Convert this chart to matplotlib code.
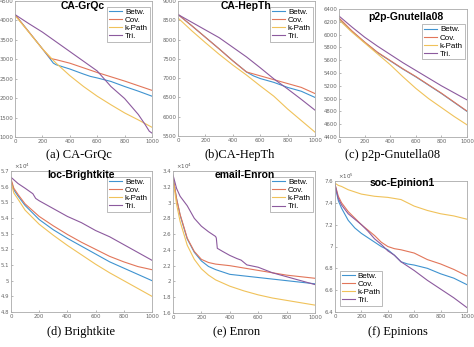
import matplotlib
matplotlib.use("Agg")
import matplotlib.pyplot as plt

W, H = 474, 347

names = ["Betw.", "Cov.", "k-Path", "Tri."]
colors = ["#3f93d0", "#e2765a", "#f0c25a", "#8c5a9e"]

# ---- (a) CA-GrQc ----
a_betw_x = [0, 100, 200, 250, 280, 300, 400, 500, 550, 600, 700, 800, 900, 1000]
a_betw_y = [4150, 3710, 3270, 3040, 2900, 2860, 2750, 2620, 2560, 2520, 2430, 2300, 2180, 2050]
a_cov_x = [0, 100, 200, 260, 300, 400, 500, 600, 700, 800, 900, 1000]
a_cov_y = [4150, 3710, 3270, 3020, 2990, 2900, 2780, 2660, 2550, 2440, 2320, 2200]
a_kp_x = [0, 100, 200, 300, 400, 500, 600, 700, 800, 900, 1000]
a_kp_y = [4130, 3700, 3270, 2900, 2580, 2300, 2050, 1830, 1620, 1440, 1250]
a_tri_x = [0, 100, 200, 300, 400, 500, 600, 650, 700, 800, 900, 950, 980, 1000]
a_tri_y = [4150, 3920, 3700, 3450, 3200, 2950, 2700, 2500, 2300, 1990, 1580, 1320, 1150, 1100]

# ---- (b) CA-HepTh ----
b_betw_x = [0, 100, 200, 300, 400, 500, 550, 600, 700, 800, 900, 1000]
b_betw_y = [8650, 8360, 8060, 7760, 7450, 7160, 7060, 6990, 6890, 6760, 6660, 6500]
b_cov_x = [0, 100, 200, 300, 400, 500, 600, 700, 800, 900, 1000]
b_cov_y = [8650, 8360, 8060, 7760, 7450, 7160, 7060, 6960, 6860, 6760, 6600]
b_kp_x = [0, 100, 200, 300, 400, 500, 600, 700, 800, 900, 1000]
b_kp_y = [8560, 8230, 7920, 7620, 7340, 7080, 6800, 6530, 6200, 5900, 5600]
b_tri_x = [0, 100, 200, 300, 400, 500, 600, 700, 750, 800, 900, 1000]
b_tri_y = [8650, 8450, 8250, 8050, 7800, 7550, 7270, 6980, 6850, 6720, 6450, 6170]

# ---- (c) p2p-Gnutella08 ----
c_x = [0, 100, 200, 300, 400, 500, 600, 700, 800, 900, 1000]
c_betw_y = [6250, 6050, 5880, 5720, 5590, 5460, 5340, 5210, 5080, 4940, 4800]
c_cov_y = [6260, 6060, 5885, 5725, 5595, 5465, 5345, 5215, 5085, 4945, 4805]
c_kp_y = [6230, 6040, 5870, 5700, 5530, 5340, 5160, 5000, 4860, 4720, 4590]
c_tri_y = [6290, 6120, 5960, 5820, 5690, 5560, 5440, 5320, 5200, 5090, 4980]

# ---- (d) loc-Brightkite (x1e4) ----
d_x = [0, 20, 50, 100, 200, 300, 400, 500, 600, 700, 800, 900, 1000]
d_betw_y = [5.64, 5.58, 5.54, 5.48, 5.39, 5.325, 5.27, 5.22, 5.17, 5.12, 5.08, 5.04, 5.00]
d_cov_y = [5.65, 5.59, 5.55, 5.49, 5.41, 5.35, 5.295, 5.245, 5.20, 5.155, 5.12, 5.09, 5.07]
d_kp_y = [5.63, 5.56, 5.52, 5.45, 5.36, 5.29, 5.225, 5.165, 5.105, 5.05, 5.00, 4.95, 4.90]
d_tri_x = [0, 50, 100, 155, 175, 200, 300, 400, 500, 600, 700, 800, 900, 1000]
d_tri_y = [5.66, 5.62, 5.59, 5.555, 5.525, 5.51, 5.46, 5.41, 5.37, 5.32, 5.28, 5.23, 5.18, 5.13]

# ---- (e) email-Enron (x1e4) ----
e_x = [0, 25, 50, 100, 150, 200, 250, 300, 400, 500, 600, 700, 800, 900, 1000]
e_betw_y = [3.32, 3.05, 2.84, 2.54, 2.37, 2.26, 2.19, 2.15, 2.09, 2.07, 2.05, 2.03, 2.01, 1.99, 1.97]
e_cov_y = [3.32, 3.05, 2.85, 2.55, 2.38, 2.28, 2.24, 2.22, 2.20, 2.17, 2.14, 2.11, 2.08, 2.06, 2.04]
e_kp_y = [3.30, 2.98, 2.76, 2.46, 2.28, 2.16, 2.08, 2.02, 1.94, 1.88, 1.83, 1.79, 1.76, 1.73, 1.70]
e_tri_x = [0, 25, 50, 100, 150, 200, 250, 300, 305, 312, 350, 400, 450, 480, 520, 600, 700, 800, 900, 1000]
e_tri_y = [3.35, 3.18, 3.08, 2.96, 2.80, 2.70, 2.63, 2.57, 2.55, 2.42, 2.38, 2.33, 2.29, 2.27, 2.21, 2.18, 2.11, 2.06, 2.01, 1.96]

# ---- (f) soc-Epinion1 (x1e5) ----
f_x = [0, 25, 50, 100, 150, 200, 250, 300, 350, 400, 450, 500, 550, 600, 700, 800, 900, 1000]
f_betw_y = [7.56, 7.42, 7.35, 7.24, 7.17, 7.12, 7.08, 7.04, 7.00, 6.97, 6.92, 6.86, 6.84, 6.83, 6.80, 6.75, 6.71, 6.65]
f_cov_y = [7.57, 7.46, 7.40, 7.32, 7.26, 7.20, 7.15, 7.10, 7.04, 7.00, 6.98, 6.97, 6.955, 6.94, 6.88, 6.84, 6.79, 6.73]
f_kp_y = [7.58, 7.56, 7.55, 7.52, 7.50, 7.48, 7.47, 7.46, 7.455, 7.45, 7.44, 7.43, 7.40, 7.37, 7.33, 7.30, 7.28, 7.25]
f_tri_y = [7.57, 7.44, 7.38, 7.30, 7.25, 7.20, 7.14, 7.07, 7.02, 6.96, 6.92, 6.86, 6.82, 6.78, 6.69, 6.61, 6.53, 6.44]

panels = [
    dict(title="CA-GrQc", caption="(a) CA-GrQc",
         series=[(a_betw_x, a_betw_y), (a_cov_x, a_cov_y), (a_kp_x, a_kp_y), (a_tri_x, a_tri_y)],
         ylim=(1000, 4500), yticks=[1000, 1500, 2000, 2500, 3000, 3500, 4000, 4500],
         ylabels=["1000", "1500", "2000", "2500", "3000", "3500", "4000", "4500"], exp=None,
         box=(15, 152, 1, 137), tpos=(83, 6), cpos=(79, 155), leg="ur"),
    dict(title="CA-HepTh", caption="(b)CA-HepTh",
         series=[(b_betw_x, b_betw_y), (b_cov_x, b_cov_y), (b_kp_x, b_kp_y), (b_tri_x, b_tri_y)],
         ylim=(5500, 9000), yticks=[5500, 6000, 6500, 7000, 7500, 8000, 8500, 9000],
         ylabels=["5500", "6000", "6500", "7000", "7500", "8000", "8500", "9000"], exp=None,
         box=(178, 315, 1, 136), tpos=(246, 6), cpos=(240, 155), leg="ur"),
    dict(title="p2p-Gnutella08", caption="(c) p2p-Gnutella08",
         series=[(c_x, c_betw_y), (c_x, c_cov_y), (c_x, c_kp_y), (c_x, c_tri_y)],
         ylim=(4400, 6400), yticks=[4400, 4600, 4800, 5000, 5200, 5400, 5600, 5800, 6000, 6200, 6400],
         ylabels=["4400", "4600", "4800", "5000", "5200", "5400", "5600", "5800", "6000", "6200", "6400"],
         exp=None, box=(339, 467, 9, 137), tpos=(406, 17), cpos=(393, 155), leg="ur"),
    dict(title="loc-Brightkite", caption="(d) Brightkite",
         series=[(d_x, d_betw_y), (d_x, d_cov_y), (d_x, d_kp_y), (d_tri_x, d_tri_y)],
         ylim=(4.8, 5.7), yticks=[4.8, 4.9, 5.0, 5.1, 5.2, 5.3, 5.4, 5.5, 5.6, 5.7],
         ylabels=["4.8", "4.9", "5", "5.1", "5.2", "5.3", "5.4", "5.5", "5.6", "5.7"], exp="4",
         box=(11, 152, 171, 312), tpos=(81, 175), cpos=(81, 332), leg="ur"),
    dict(title="email-Enron", caption="(e) Enron",
         series=[(e_x, e_betw_y), (e_x, e_cov_y), (e_x, e_kp_y), (e_tri_x, e_tri_y)],
         ylim=(1.6, 3.4), yticks=[1.6, 1.8, 2.0, 2.2, 2.4, 2.6, 2.8, 3.0, 3.2, 3.4],
         ylabels=["1.6", "1.8", "2", "2.2", "2.4", "2.6", "2.8", "3", "3.2", "3.4"], exp="4",
         box=(173, 315, 171, 313), tpos=(245, 175), cpos=(237, 332), leg="ur"),
    dict(title="soc-Epinion1", caption="(f) Epinions",
         series=[(f_x, f_betw_y), (f_x, f_cov_y), (f_x, f_kp_y), (f_x, f_tri_y)],
         ylim=(6.4, 7.6), yticks=[6.4, 6.6, 6.8, 7.0, 7.2, 7.4, 7.6],
         ylabels=["6.4", "6.6", "6.8", "7", "7.2", "7.4", "7.6"], exp="5",
         box=(335, 467, 181, 312), tpos=(402, 183), cpos=(398, 332), leg="ll"),
]

xticks = [0, 200, 400, 600, 800, 1000]

fig = plt.figure(figsize=(W / 100, H / 100), dpi=100)
fig.patch.set_facecolor("white")

for p in panels:
    l, r, t, b = p["box"]
    ax = fig.add_axes([l / W, 1 - b / H, (r - l) / W, (b - t) / H])
    for (xs, ys), c, n in zip(p["series"], colors, names):
        ax.plot(xs, ys, color=c, lw=0.8, label=n)
    ax.set_xlim(0, 1000)
    ax.set_ylim(*p["ylim"])
    ax.set_xticks(xticks)
    ax.set_xticklabels([str(v) for v in xticks])
    ax.set_yticks(p["yticks"])
    ax.set_yticklabels(p["ylabels"])
    ax.tick_params(direction="in", length=1.5, width=0.5, colors="#999999",
                   labelsize=3.9, labelcolor="#666666", pad=1.2, top=False, right=False)
    for s in ax.spines.values():
        s.set_color("#aaaaaa")
        s.set_linewidth(0.6)
    if p["exp"]:
        ax.text(0.02, 1.0, r"$\times10^{%s}$" % p["exp"], transform=ax.transAxes,
                ha="left", va="bottom", fontsize=4, color="#555555")
    fig.text(p["tpos"][0] / W, 1 - p["tpos"][1] / H, p["title"], ha="center", va="center",
             fontsize=7.5, fontweight="bold", family=["Liberation Sans", "DejaVu Sans"])
    fig.text(p["cpos"][0] / W, 1 - p["cpos"][1] / H, p["caption"], ha="center", va="center",
             fontsize=9, family=["Liberation Serif", "DejaVu Serif"])
    if p["leg"] == "ur":
        loc, anchor = "upper right", (1.0, 0.975 if p["title"] != "p2p-Gnutella08" else 0.9)
    else:
        loc, anchor = "lower left", (0.02, 0.03)
    leg = ax.legend(loc=loc, bbox_to_anchor=anchor, fontsize=5.8, frameon=True, fancybox=False,
                    handlelength=1.6, handletextpad=0.4, borderpad=0.2, labelspacing=0.05,
                    borderaxespad=0.3, prop={"family": ["Liberation Sans", "DejaVu Sans"], "size": 5.8})
    leg.get_frame().set_edgecolor("#888888")
    leg.get_frame().set_linewidth(0.5)

fig.savefig("out.png", dpi=100, facecolor="white")
